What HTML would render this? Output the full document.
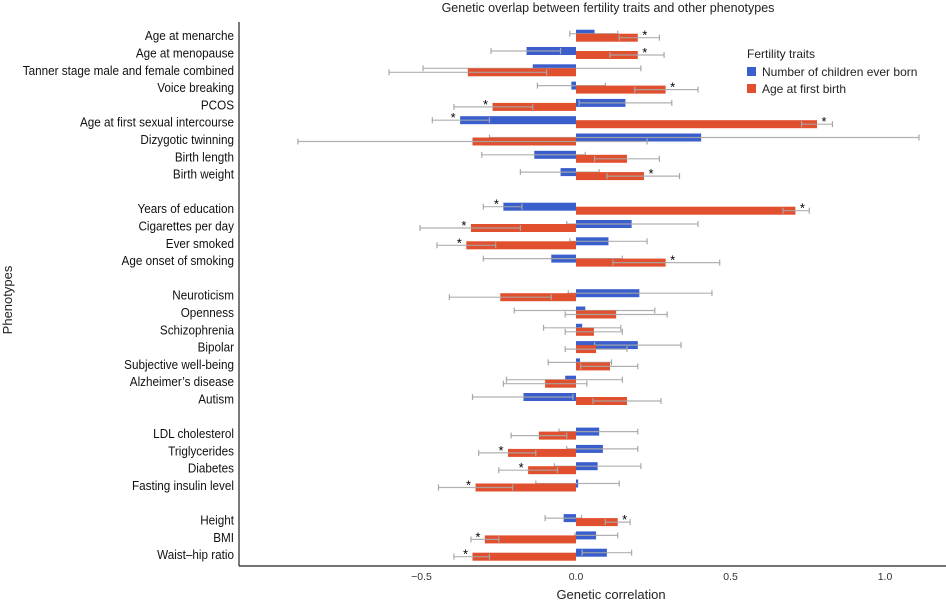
<!DOCTYPE html>
<html><head><meta charset="utf-8"><style>
html,body{margin:0;padding:0;background:#fff;}
svg{display:block;font-family:"Liberation Sans",sans-serif;}
</style></head><body>
<svg id="chart" width="946" height="602" viewBox="0 0 946 602" xmlns="http://www.w3.org/2000/svg">
<text x="608" y="12" font-size="12.5" text-anchor="middle" fill="#222">Genetic overlap between fertility traits and other phenotypes</text>
<text transform="translate(12,300) rotate(-90)" font-size="13" text-anchor="middle" fill="#222">Phenotypes</text>
<text x="611" y="599" font-size="13" text-anchor="middle" fill="#222">Genetic correlation</text>
<g id="labels" transform="translate(234,0) scale(0.9,1)"></g>
<g id="plot"></g>
<g>
<text x="747" y="58" font-size="12" fill="#222">Fertility traits</text>
<rect x="747" y="67" width="9" height="9" fill="#3a5fcd"/>
<text x="762" y="76" font-size="12" fill="#222">Number of children ever born</text>
<rect x="747" y="84" width="9" height="9" fill="#e0502e"/>
<text x="762" y="93" font-size="12" fill="#222">Age at first birth</text>
</g>
</svg>
<script>
const categories = ["Age at menarche","Age at menopause","Tanner stage male and female combined","Voice breaking","PCOS","Age at first sexual intercourse","Dizygotic twinning","Birth length","Birth weight",null,"Years of education","Cigarettes per day","Ever smoked","Age onset of smoking",null,"Neuroticism","Openness","Schizophrenia","Bipolar","Subjective well-being","Alzheimer\u2019s disease","Autism",null,"LDL cholesterol","Triglycerides","Diabetes","Fasting insulin level",null,"Height","BMI","Waist\u2013hip ratio"];
const childrenVals = [0.06,-0.16,-0.14,-0.015,0.16,-0.375,0.405,-0.135,-0.05,null,-0.235,0.18,0.105,-0.08,null,0.205,0.03,0.02,0.20,0.013,-0.035,-0.17,null,0.075,0.087,0.07,0.007,null,-0.04,0.065,0.10];
const childrenLo = [-0.02,-0.275,-0.495,-0.125,0.01,-0.465,-0.28,-0.305,-0.18,null,-0.30,-0.03,-0.02,-0.30,null,-0.025,-0.20,-0.105,0.06,-0.09,-0.225,-0.335,null,-0.055,-0.03,-0.07,-0.13,null,-0.10,-0.003,0.02];
const childrenHi = [0.135,-0.05,0.21,0.095,0.31,-0.28,1.11,0.03,0.075,null,-0.175,0.395,0.23,0.15,null,0.44,0.255,0.145,0.34,0.115,0.15,-0.01,null,0.20,0.20,0.21,0.14,null,0.018,0.135,0.18];
const childrenSig = [0,0,0,0,0,1,0,0,0,null,1,0,0,0,null,0,0,0,0,0,0,0,null,0,0,0,0,null,0,0,0];
const afbVals = [0.20,0.20,-0.35,0.29,-0.27,0.78,-0.335,0.165,0.22,null,0.71,-0.34,-0.355,0.29,null,-0.245,0.13,0.058,0.065,0.11,-0.10,0.165,null,-0.12,-0.22,-0.155,-0.325,null,0.135,-0.295,-0.335];
const afbLo = [0.14,0.11,-0.605,0.19,-0.395,0.73,-0.90,0.06,0.10,null,0.67,-0.505,-0.45,0.12,null,-0.41,-0.035,-0.035,-0.035,0.015,-0.235,0.055,null,-0.21,-0.315,-0.25,-0.445,null,0.095,-0.34,-0.395];
const afbHi = [0.27,0.285,-0.095,0.395,-0.14,0.83,0.23,0.27,0.335,null,0.755,-0.18,-0.26,0.465,null,-0.08,0.295,0.15,0.165,0.20,0.035,0.275,null,-0.03,-0.13,-0.06,-0.205,null,0.175,-0.25,-0.28];
const afbSig = [1,1,0,1,1,1,0,0,1,null,1,1,1,1,null,0,0,0,0,0,0,0,null,0,1,1,1,null,1,1,1];
const tickValues = [-0.5,0,0.5,1];
const tickLabels = ["\u22120.5","0.0","0.5","1.0"];

const NS="http://www.w3.org/2000/svg";
const g=document.getElementById('plot');
const lg=document.getElementById('labels');
const x0=576, scale=309;
function xs(v){return x0+v*scale;}
function ys(i){return 35.7+i*17.3;}
function mk(tag,attrs,parent){const e=document.createElementNS(NS,tag);for(const k in attrs)e.setAttribute(k,attrs[k]);(parent||g).appendChild(e);return e;}

let ax=mk('line',{x1:239,y1:22,x2:239,y2:566,stroke:'#222','stroke-width':1.2});


let bx=mk('line',{x1:239,y1:566,x2:946,y2:566,stroke:'#222','stroke-width':1.2});


tickValues.forEach((v,i)=>{
  const t=mk('text',{x:xs(v),y:580,'font-size':10.5,'text-anchor':'middle',fill:'#333'});
  t.textContent=tickLabels[i];
  
  
});

function bar(v,lo,hi,sig,yc,color,name){
  const a=Math.min(xs(0),xs(v)), w=Math.abs(xs(v)-xs(0));
  const r=mk('rect',{x:a,y:yc-4,width:w,height:8,fill:color});
  
  
  const l=mk('line',{x1:xs(lo),y1:yc,x2:xs(hi),y2:yc,stroke:'#a8a8a8','stroke-width':1.2,opacity:0.9});
  
  
  [lo,hi].forEach(q=>{
    const c=mk('line',{x1:xs(q),y1:yc-3,x2:xs(q),y2:yc+3,stroke:'#a8a8a8','stroke-width':1.2});
    
    
  });
  if(sig){
    const sx = v>=0 ? xs(v)+7 : xs(v)-7;
    const s=mk('text',{x:sx,y:yc+2,'font-size':13,'text-anchor':'middle',fill:'#000'});
    s.textContent='*';
    
    
  }
}

categories.forEach((c,i)=>{
  if(c===null) return;
  const yc=ys(i);
  const t=mk('text',{x:0,y:yc+4.5,'font-size':13,'text-anchor':'end',fill:'#111'},lg);
  t.textContent=c;
  
  
  bar(childrenVals[i],childrenLo[i],childrenHi[i],childrenSig[i],yc-2,'#3a5fcd','bar-children');
  bar(afbVals[i],afbLo[i],afbHi[i],afbSig[i],yc+2,'#e0502e','bar-age-first-birth');
});
</script>
</body></html>
